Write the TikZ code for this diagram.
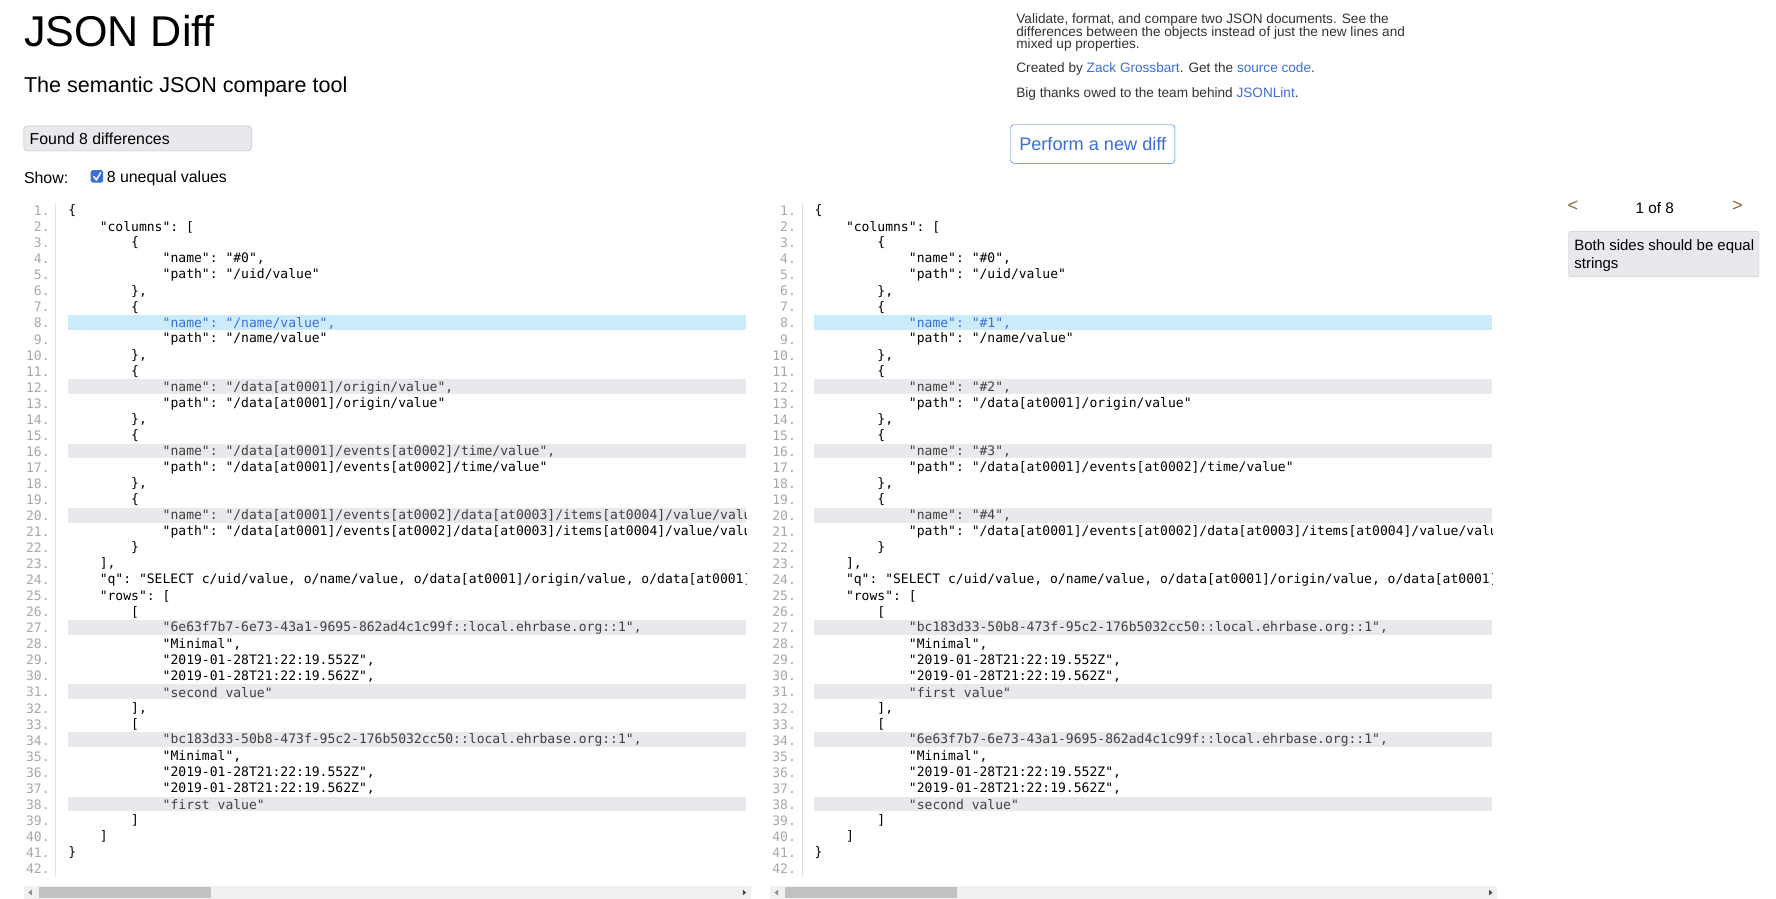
\documentclass[tikz,border=0pt]{standalone}
\usepackage{fontspec}
\setmainfont{Liberation Sans}
\setmonofont{DejaVu Sans Mono}
\usetikzlibrary{positioning}
\definecolor{barbg}{HTML}{E8E9EC}
\definecolor{bluebg}{HTML}{CCEBFA}
\definecolor{linkblue}{HTML}{3B6FD6}
\definecolor{numgray}{HTML}{A8A8A8}
\definecolor{navbrown}{HTML}{8C6A3A}
\definecolor{trackgray}{HTML}{F1F1F1}
\definecolor{thumbgray}{HTML}{C1C1C1}
\tikzset{
  code/.style={anchor=west, inner sep=0pt, font=\fontsize{11.5}{12}\ttfamily},
  lnum/.style={anchor=east, inner sep=0pt, text=numgray, font=\fontsize{11.5}{12}\ttfamily},
  txt/.style={anchor=base west, inner sep=0pt, font=\fontsize{12}{13}\selectfont, text=black!80},
}
% one line of code: number, indent level, text
\newcommand{\cl}[3]{\node[code] (\pfx#1) at (\xo+#2*27.76, 186+#1*14.146-14.146) {#3};}
\newcommand{\hl}[2]{\fill[#2] (\xo, 186+#1*14.146-21.2) rectangle (\xo+598, 186+#1*14.146-8.2);}
\newcommand{\dl}[4]{\node[code, text=#4] (\pfx#1) at (\xo+#2*27.76, 186+#1*14.146-14.146) {#3};}
\newcommand{\commonlines}{%
  \cl{1}{0}{\{}
  \cl{2}{1}{"columns": [}
  \cl{3}{2}{\{}
  \cl{4}{3}{"name": "\#0",}
  \cl{5}{3}{"path": "/uid/value"}
  \cl{6}{2}{\},}
  \cl{7}{2}{\{}
  \cl{9}{3}{"path": "/name/value"}
  \cl{10}{2}{\},}
  \cl{11}{2}{\{}
  \cl{13}{3}{"path": "/data[at0001]/origin/value"}
  \cl{14}{2}{\},}
  \cl{15}{2}{\{}
  \cl{17}{3}{"path": "/data[at0001]/events[at0002]/time/value"}
  \cl{18}{2}{\},}
  \cl{19}{2}{\{}
  \cl{21}{3}{"path": "/data[at0001]/events[at0002]/data[at0003]/items[at0004]/value/valu}
  \cl{22}{2}{\}}
  \cl{23}{1}{],}
  \cl{24}{1}{"q": "SELECT c/uid/value, o/name/value, o/data[at0001]/origin/value, o/data[at0001]/}
  \cl{25}{1}{"rows": [}
  \cl{26}{2}{[}
  \cl{28}{3}{"Minimal",}
  \cl{29}{3}{"2019-01-28T21:22:19.552Z",}
  \cl{30}{3}{"2019-01-28T21:22:19.562Z",}
  \cl{32}{2}{],}
  \cl{33}{2}{[}
  \cl{35}{3}{"Minimal",}
  \cl{36}{3}{"2019-01-28T21:22:19.552Z",}
  \cl{37}{3}{"2019-01-28T21:22:19.562Z",}
  \cl{39}{2}{]}
  \cl{40}{1}{]}
  \cl{41}{0}{\}}
  \foreach \n in {1,...,42}
    \node[lnum] (\pfx n\n) at (\xo-16, 186+\n*14.146-14.146) {\n.};
  \draw[black!12] (\xo-11,179) -- (\xo-11,773);
  \foreach \n in {12,16,20,27,31,34,38} {\hl{\n}{barbg}}
  \hl{8}{bluebg}
}

\begin{document}
\begin{tikzpicture}[x=1pt,y=-1pt]
\useasboundingbox[fill=white] (0,0) rectangle (1566,792);

% header
\node[anchor=base west, inner sep=0pt, font=\fontsize{38}{38}\selectfont] (title) at (21,41) {JSON Diff};
\node[anchor=base west, inner sep=0pt, font=\fontsize{19}{20}\selectfont] (subtitle) at (21,82) {The semantic JSON compare tool};
\draw[black!25, fill=barbg, rounded corners=3pt] (21,111) rectangle (222,133);
\node[anchor=west, inner sep=0pt, font=\fontsize{14}{15}\selectfont] (found) at (26,122) {Found 8 differences};
\node[anchor=west, inner sep=0pt, font=\fontsize{14}{15}\selectfont] (show) at (21,157) {Show:};
\fill[linkblue, rounded corners=2pt] (80,150) rectangle (91,161);
\draw[white, line width=1.3pt] (82.5,155.5) -- (85,158.5) -- (89,152);
\node[anchor=west, inner sep=0pt, font=\fontsize{14}{15}\selectfont] (unequal) at (94,157) {8 unequal values};

% about text
\node[txt] (about1) at (896,21) {Validate, format, and compare two JSON documents. See the};
\node[txt] (about2) at (896,32) {differences between the objects instead of just the new lines and};
\node[txt] (about3) at (896,43) {mixed up properties.};
\node[txt] (created) at (896,64) {Created by \textcolor{linkblue}{Zack Grossbart}. Get the \textcolor{linkblue}{source code}.};
\node[txt] (thanks) at (896,86) {Big thanks owed to the team behind \textcolor{linkblue}{JSONLint}.};
\draw[linkblue, rounded corners=3pt] (891,110) rectangle (1036,144);
\node[inner sep=0pt, text=linkblue, font=\fontsize{16}{17}\selectfont] (newdiff) at (963.5,127) {Perform a new diff};

% left panel
\begin{scope}
\clip (0,170) rectangle (658,775);
\def\xo{60}\def\pfx{l}
\commonlines
\dl{8}{3}{"name": "/name/value",}{linkblue}
\dl{12}{3}{"name": "/data[at0001]/origin/value",}{black!75}
\dl{16}{3}{"name": "/data[at0001]/events[at0002]/time/value",}{black!75}
\dl{20}{3}{"name": "/data[at0001]/events[at0002]/data[at0003]/items[at0004]/value/valu}{black!75}
\dl{27}{3}{"6e63f7b7-6e73-43a1-9695-862ad4c1c99f::local.ehrbase.org::1",}{black!75}
\dl{31}{3}{"second value"}{black!75}
\dl{34}{3}{"bc183d33-50b8-473f-95c2-176b5032cc50::local.ehrbase.org::1",}{black!75}
\dl{38}{3}{"first value"}{black!75}
\end{scope}

% right panel
\begin{scope}
\clip (660,170) rectangle (1316,775);
\def\xo{718}\def\pfx{r}
\commonlines
\dl{8}{3}{"name": "\#1",}{linkblue}
\dl{12}{3}{"name": "\#2",}{black!75}
\dl{16}{3}{"name": "\#3",}{black!75}
\dl{20}{3}{"name": "\#4",}{black!75}
\dl{27}{3}{"bc183d33-50b8-473f-95c2-176b5032cc50::local.ehrbase.org::1",}{black!75}
\dl{31}{3}{"first value"}{black!75}
\dl{34}{3}{"6e63f7b7-6e73-43a1-9695-862ad4c1c99f::local.ehrbase.org::1",}{black!75}
\dl{38}{3}{"second value"}{black!75}
\end{scope}

% scrollbars
\foreach \sx in {21,679} {
  \fill[trackgray] (\sx,781) rectangle (\sx+641,793);
  \fill[thumbgray] (\sx+13,782.5) rectangle (\sx+165,791.5);
  \fill[black!45] (\sx+4,787) -- (\sx+7,784.5) -- (\sx+7,789.5) -- cycle;
  \fill[black!70] (\sx+637,787) -- (\sx+634,784.5) -- (\sx+634,789.5) -- cycle;
}

% navigation
\node[inner sep=0pt, text=navbrown, font=\fontsize{16}{17}\selectfont] (prev) at (1387,182) {<};
\node[inner sep=0pt, font=\fontsize{13.5}{14}\selectfont] (count) at (1459,183) {1 of 8};
\node[inner sep=0pt, text=navbrown, font=\fontsize{16}{17}\selectfont] (next) at (1532,182) {>};
\draw[black!20, fill=barbg, rounded corners=2pt] (1383,204) rectangle (1551,244);
\node[anchor=base west, inner sep=0pt, font=\fontsize{13.2}{14}\selectfont] (msg1) at (1388,221) {Both sides should be equal};
\node[anchor=base west, inner sep=0pt, font=\fontsize{13.2}{14}\selectfont] (msg2) at (1388,237) {strings};
\end{tikzpicture}
\end{document}
